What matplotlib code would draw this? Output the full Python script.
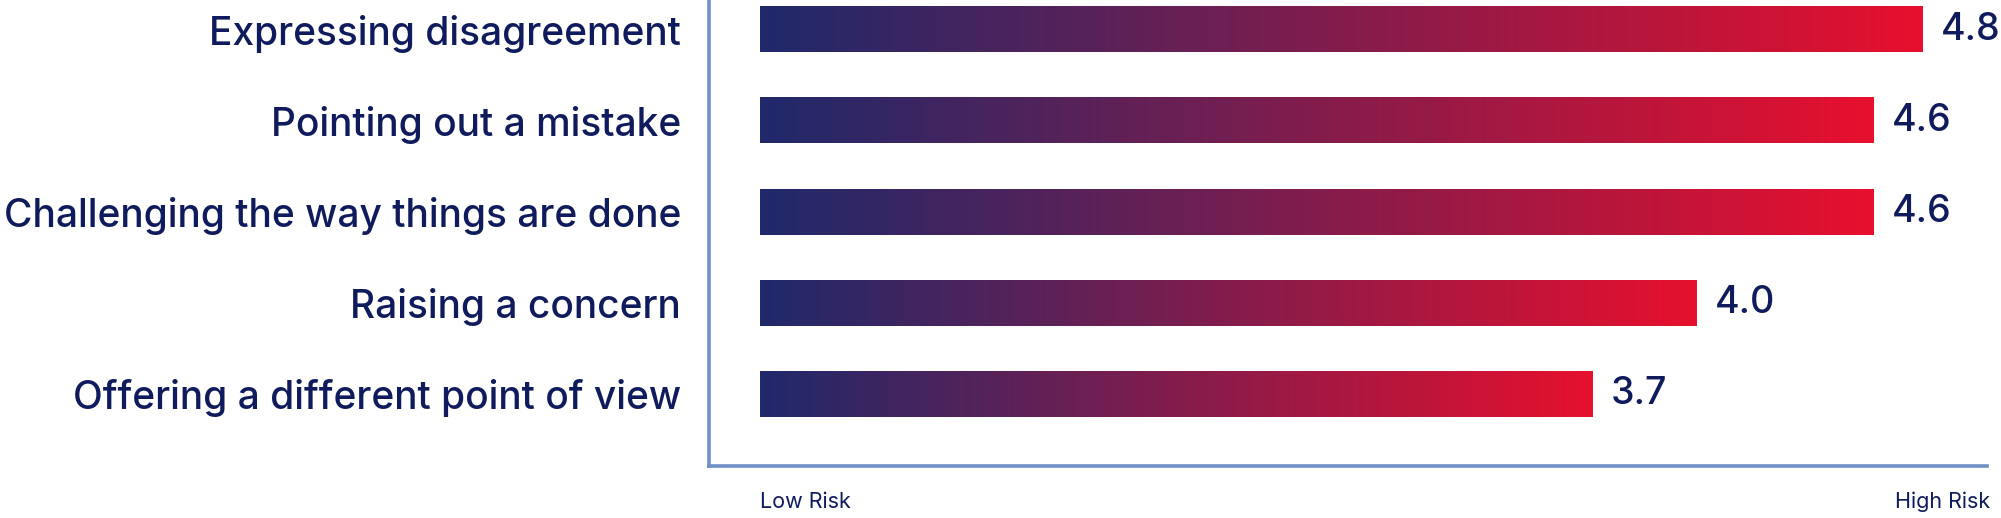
import numpy as np
import matplotlib
matplotlib.use("Agg")
import matplotlib.pyplot as plt
from matplotlib.colors import LinearSegmentedColormap

# data, top to bottom
behaviours = [
    "Expressing disagreement",
    "Pointing out a mistake",
    "Challenging the way things are done",
    "Raising a concern",
    "Offering a different point of view",
]
risk_scores = [4.8, 4.64, 4.64, 4.06, 3.72]
score_labels = ["4.8", "4.6", "4.6", "4.0", "3.7"]
scale_min = 1
scale_max = 5
scale_labels = ["Low Risk", "High Risk"]

navy = "#0f1b5c"
axis_blue = "#7090c6"
grad = LinearSegmentedColormap.from_list("risk", ["#20296a", "#e6102e"])

plt.rcParams['font.family'] = ['Inter', 'DejaVu Sans']

fig = plt.figure(figsize=(20.01, 5.18), dpi=100)
ax = fig.add_axes([0.3543, 0.1004, 0.6387, 0.8996])

y = np.arange(len(behaviours))
bars = ax.barh(y, [v - scale_min for v in risk_scores], left=scale_min,
               height=0.5, color="none", edgecolor="none")

# fill each bar with its own left-to-right gradient
gradient = np.linspace(0, 1, 256).reshape(1, -1)
for patch in bars:
    x0 = patch.get_x()
    x1 = x0 + patch.get_width()
    y0 = patch.get_y()
    y1 = y0 + patch.get_height()
    ax.imshow(gradient, cmap=grad, aspect="auto", extent=[x0, x1, y1, y0],
              interpolation="bicubic", zorder=2)

# value labels
for yi, v, lab in zip(y, risk_scores, score_labels):
    ax.annotate(lab, xy=(v, yi), xytext=(13, 0), textcoords="offset points",
                va="center", ha="left", fontsize=27, fontweight="medium", color=navy,
                annotation_clip=False)

ax.set_xlim(0.833, 5.01)
ax.set_ylim(4.79, -0.324)

ax.set_yticks(y)
ax.set_yticklabels(behaviours, fontsize=28, fontweight="medium", color=navy)
ax.tick_params(axis="y", length=0, pad=20)
ax.set_xticks([])

for side in ["top", "right"]:
    ax.spines[side].set_visible(False)
for side in ["left", "bottom"]:
    ax.spines[side].set_color(axis_blue)
    ax.spines[side].set_linewidth(2.6)

# scale end labels under the axis
ax.text(scale_min, -0.055, scale_labels[0], transform=ax.get_xaxis_transform(),
        ha="left", va="top", fontsize=15.5, color=navy)
ax.text(scale_max + 0.02, -0.055, scale_labels[1], transform=ax.get_xaxis_transform(),
        ha="right", va="top", fontsize=15.5, color=navy)

fig.savefig("out.png", dpi=100)
